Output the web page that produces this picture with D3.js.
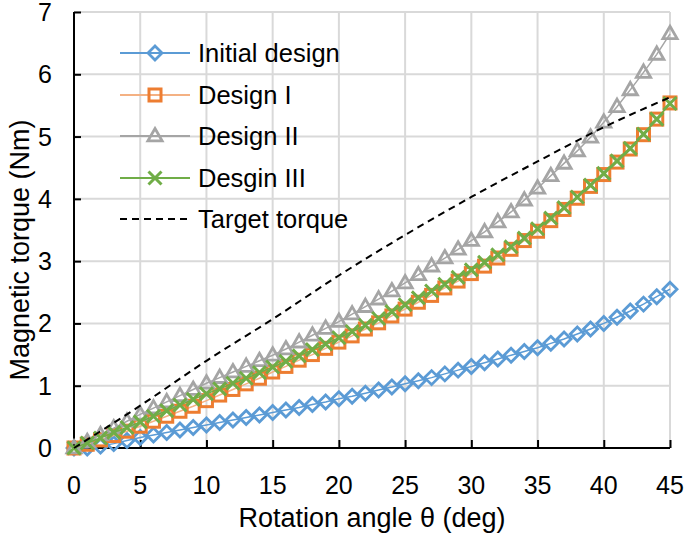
<!DOCTYPE html>
<html>
<head>
<meta charset="utf-8">
<script src="https://cdn.jsdelivr.net/npm/d3@7"></script>
<style>
  html, body { margin: 0; padding: 0; background: #fff; }
  svg { display: block; font-family: "Liberation Sans", Arial, sans-serif; }
</style>
</head>
<body>
<svg id="chart" width="685" height="533"></svg>
<script>
const angles = d3.range(0, 46);
const initialDesign = [0,0.0,0.03,0.07,0.12,0.17,0.21,0.25,0.29,0.33,0.37,0.41,0.45,0.49,0.53,0.57,0.61,0.65,0.70,0.74,0.79,0.83,0.88,0.93,0.98,1.03,1.08,1.13,1.19,1.25,1.31,1.37,1.43,1.49,1.55,1.61,1.68,1.75,1.83,1.91,2.00,2.10,2.20,2.31,2.43,2.55];
const designI = [0,0.06,0.13,0.20,0.27,0.35,0.43,0.51,0.59,0.67,0.76,0.85,0.94,1.03,1.12,1.22,1.31,1.41,1.50,1.60,1.70,1.80,1.91,2.01,2.12,2.23,2.34,2.45,2.57,2.68,2.80,2.92,3.05,3.19,3.33,3.48,3.65,3.83,4.01,4.20,4.39,4.59,4.80,5.03,5.28,5.54];
const designII = [0,0.10,0.21,0.32,0.43,0.54,0.64,0.74,0.84,0.94,1.04,1.13,1.22,1.31,1.40,1.49,1.59,1.70,1.81,1.92,2.03,2.15,2.27,2.39,2.52,2.65,2.78,2.92,3.05,3.19,3.33,3.47,3.63,3.79,3.98,4.17,4.37,4.57,4.77,4.99,5.23,5.48,5.75,6.03,6.32,6.65];
const designIII = [0,0.08,0.16,0.25,0.33,0.42,0.51,0.60,0.69,0.78,0.87,0.95,1.04,1.12,1.21,1.30,1.39,1.48,1.58,1.67,1.77,1.87,1.97,2.08,2.19,2.30,2.41,2.52,2.63,2.74,2.86,2.98,3.10,3.23,3.37,3.52,3.69,3.86,4.03,4.22,4.41,4.61,4.81,5.04,5.28,5.53];
const targetAngles = [0,5,10,15,20,25,30,35,40,45];
const targetTorque = [0,0.68,1.40,2.07,2.77,3.42,4.03,4.60,5.15,5.63];
const xTicks = [0,5,10,15,20,25,30,35,40,45];
const yTicks = [0,1,2,3,4,5,6,7];
const legendLabels = ["Initial design","Design I","Design II","Desgin III","Target torque"];

const svg = d3.select("#chart");
const pL = 74, pR = 670, pT = 12, pB = 448;
const x = d3.scaleLinear().domain([0,45]).range([pL,pR]);
const y = d3.scaleLinear().domain([0,7]).range([pB,pT]);

const grid = "#d9d9d9";
svg.append("g").selectAll("line").data(yTicks.slice(1)).join("line")
  .attr("x1", pL).attr("x2", pR).attr("y1", d=>y(d)).attr("y2", d=>y(d))
  .attr("stroke", grid).attr("stroke-width", 2);
svg.append("g").selectAll("line").data(xTicks.slice(1)).join("line")
  .attr("x1", d=>x(d)).attr("x2", d=>x(d)).attr("y1", pT).attr("y2", pB)
  .attr("stroke", grid).attr("stroke-width", 2);

const yAxis = svg.append("g").attr("transform", `translate(${pL},0)`)
  .call(d3.axisRight(y).tickValues(yTicks).tickSize(7).tickFormat(""));
yAxis.select(".domain").attr("stroke","#000").attr("stroke-width",2).attr("d", `M0,${pT}V${pB}`);
yAxis.selectAll(".tick line").attr("stroke","#000").attr("stroke-width",2);
const xAxis = svg.append("g").attr("transform", `translate(0,${pB})`)
  .call(d3.axisTop(x).tickValues(xTicks).tickSize(8).tickFormat(""));
xAxis.select(".domain").attr("stroke","#000").attr("stroke-width",2).attr("d", `M${pL},0H${pR}`);
xAxis.selectAll(".tick line").attr("stroke","#000").attr("stroke-width",2);

svg.append("g").selectAll("text").data(yTicks).join("text")
  .attr("x", 52).attr("y", d=>y(d)).attr("dy","0.36em").attr("text-anchor","end")
  .attr("font-size", 25).attr("fill","#000").text(d=>d);
svg.append("g").selectAll("text").data(xTicks).join("text")
  .attr("x", d=>x(d)).attr("y", 494).attr("text-anchor","middle")
  .attr("font-size", 25).attr("fill","#000").text(d=>d);

svg.append("text").attr("x", 372).attr("y", 527).attr("text-anchor","middle")
  .attr("font-size", 27).attr("fill","#000").text("Rotation angle θ (deg)");
svg.append("text").attr("transform","translate(29,250) rotate(-90)").attr("text-anchor","middle")
  .attr("font-size", 27).attr("fill","#000").text("Magnetic torque (Nm)");

function diamond(g, cx, cy, c){ const r=7;
  g.append("path").attr("d",`M${cx},${cy-r}L${cx+r},${cy}L${cx},${cy+r}L${cx-r},${cy}Z`)
   .attr("fill","none").attr("stroke",c).attr("stroke-width",2.8); }
function square(g, cx, cy, c){ const r=6;
  g.append("rect").attr("x",cx-r).attr("y",cy-r).attr("width",2*r).attr("height",2*r)
   .attr("fill","none").attr("stroke",c).attr("stroke-width",3); }
function triangle(g, cx, cy, c){ const r=7.5;
  g.append("path").attr("d",`M${cx},${cy-r}L${cx+r*0.95},${cy+r*0.65}L${cx-r*0.95},${cy+r*0.65}Z`)
   .attr("fill","none").attr("stroke",c).attr("stroke-width",2.8); }
function cross(g, cx, cy, c){ const r=6.5;
  g.append("path").attr("d",`M${cx-r},${cy-r}L${cx+r},${cy+r}M${cx-r},${cy+r}L${cx+r},${cy-r}`)
   .attr("fill","none").attr("stroke",c).attr("stroke-width",3); }

const series = [
  {vals: initialDesign, color:"#5B9BD5", line:"#5B9BD5", marker: diamond},
  {vals: designI, color:"#ED7D31", line:"#F4B183", marker: square},
  {vals: designII, color:"#A5A5A5", line:"#A5A5A5", marker: triangle},
  {vals: designIII, color:"#70AD47", line:"#70AD47", marker: cross},
];
const lineGen = d3.line().x(d=>x(d[0])).y(d=>y(d[1]));
series.forEach(s => {
  const pts = angles.map((a,i)=>[a, s.vals[i]]);
  const g = svg.append("g");
  g.append("path").datum(pts).attr("d", lineGen).attr("fill","none")
    .attr("stroke", s.line).attr("stroke-width",1.5);
  pts.forEach(p => s.marker(g, x(p[0]), y(p[1]), s.color));
});
const tpts = targetAngles.map((a,i)=>[a, targetTorque[i]]);
svg.append("path").datum(tpts).attr("d", d3.line().x(d=>x(d[0])).y(d=>y(d[1])).curve(d3.curveMonotoneX))
  .attr("fill","none").attr("stroke","#000").attr("stroke-width",2).attr("stroke-dasharray","7,5");

const legY = [53, 95, 136, 178, 219];
const lg = svg.append("g");
legendLabels.forEach((lab,i) => {
  const yy = legY[i];
  if (i < 4) {
    const s = series[i];
    lg.append("line").attr("x1",120).attr("x2",190).attr("y1",yy).attr("y2",yy)
      .attr("stroke", s.line).attr("stroke-width",2);
    s.marker(lg, 155, yy, s.color);
  } else {
    lg.append("line").attr("x1",120).attr("x2",190).attr("y1",yy).attr("y2",yy)
      .attr("stroke","#000").attr("stroke-width",2).attr("stroke-dasharray","7,5");
  }
  lg.append("text").attr("x",198).attr("y",yy).attr("dy","0.36em")
    .attr("font-size",25.5).attr("fill","#000").text(lab);
});
</script>
</body>
</html>
